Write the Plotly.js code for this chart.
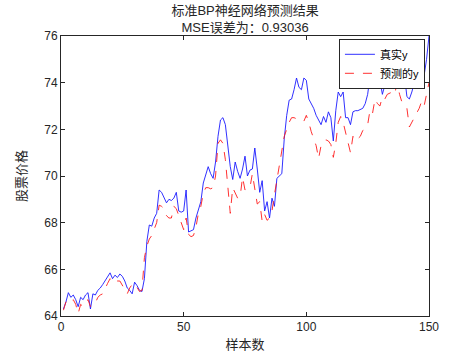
<!DOCTYPE html>
<html>
<head>
<meta charset="utf-8">
<script src="https://cdn.plot.ly/plotly-3.0.1.min.js"></script>
<style>html,body{margin:0;padding:0;background:#fff;}#chart{width:474px;height:355px;}</style>
</head>
<body>
<div id="chart"></div>
<script>
const sampleIndex = Array.from({length: 150}, (_, k) => k + 1);
const actualY = [
64.3,64.6,65.0,64.8,64.9,64.7,64.4,64.8,64.7,64.9,
65.0,64.3,64.95,64.9,65.1,65.2,65.35,65.5,65.7,65.85,
65.6,65.75,65.65,65.8,65.7,65.5,65.2,65.1,64.95,65.45,
65.3,65.1,65.05,65.6,67.2,67.9,67.85,68.2,68.4,69.4,
69.3,69.05,68.85,69.0,68.95,69.05,69.3,68.5,68.45,68.5,
69.4,67.6,67.65,67.7,68.2,68.6,68.9,69.7,70.1,70.4,
70.1,69.9,70.6,71.7,72.4,72.5,72.2,71.4,70.4,69.85,
70.6,70.2,69.9,70.3,70.85,70.0,70.25,70.3,71.2,70.3,
69.3,69.8,68.5,68.9,68.2,69.05,68.7,69.9,70.0,70.1,
71.6,72.6,73.25,73.3,73.7,74.2,73.8,73.7,74.2,74.1,
73.3,73.1,72.9,72.6,72.4,72.2,72.55,72.3,72.75,72.5,
71.5,72.8,73.6,73.4,73.6,72.5,72.5,72.2,72.75,72.8,
72.8,72.85,72.9,73.1,73.5,74.3,75.0,74.5,73.9,74.1,
73.5,73.9,74.6,75.1,74.7,75.2,74.8,75.3,74.9,74.3,
73.4,73.3,73.6,74.0,74.2,74.5,74.6,74.3,75.0,76.0
];
const predictedY = [
64.25,64.6,64.7,64.6,64.7,64.5,64.1,64.5,64.4,64.6,
64.7,64.4,64.5,64.55,64.8,64.9,64.95,65.2,65.4,65.6,
65.45,65.4,65.5,65.5,65.3,65.1,64.95,65.2,65.35,65.4,
65.2,65.05,65.1,66.5,67.0,67.3,67.45,67.7,68.0,68.75,
68.7,68.6,68.3,68.2,68.2,68.7,68.6,68.3,67.95,67.7,
68.2,67.5,67.4,67.45,67.8,68.4,68.7,69.25,69.5,69.5,
69.45,69.5,70.0,71.4,71.55,71.4,70.7,69.6,68.4,69.5,
69.3,69.05,69.1,69.95,69.4,69.45,69.5,70.1,69.5,68.8,
68.9,68.05,68.35,68.1,68.2,68.5,69.2,69.8,70.4,71.0,
71.7,72.0,72.3,72.5,72.5,72.45,72.4,72.4,72.35,72.6,
72.3,71.9,71.6,71.3,70.75,71.3,71.5,71.55,71.5,71.35,
70.8,71.4,72.3,72.55,72.3,71.9,71.45,71.0,71.7,71.5,
71.6,71.7,71.95,72.0,72.2,72.85,72.7,73.3,73.1,73.0,
73.4,73.3,73.5,73.55,73.6,73.5,74.0,73.5,73.15,73.0,
72.9,72.1,72.3,72.5,72.7,72.9,73.2,73.0,73.5,74.0
];
const seriesNames = ['真实y', '预测的y'];
const xTicks = [0, 50, 100, 150];
const yTicks = [64, 66, 68, 70, 72, 74, 76];

const font = 'Liberation Sans, Arial, Noto Sans CJK SC, sans-serif';
const axisColor = '#262626';

const traces = [
  {x: sampleIndex, y: actualY, name: seriesNames[0], mode: 'lines',
   line: {color: '#1a1aff', width: 0.9}},
  {x: sampleIndex, y: predictedY, name: seriesNames[1], mode: 'lines',
   line: {color: '#ff1a1a', width: 0.9, dash: 'dash'}}
];

const axisCommon = {
  showgrid: false, zeroline: false, showline: true, linecolor: axisColor, linewidth: 1,
  mirror: 'ticks', ticks: 'inside', ticklen: 4, tickcolor: axisColor,
  tickfont: {family: font, size: 12, color: axisColor}
};

const layout = {
  width: 474, height: 355,
  margin: {l: 61, r: 45, t: 36, b: 39},
  paper_bgcolor: '#ffffff', plot_bgcolor: '#ffffff',
  title: {text: '标准BP神经网络预测结果<br>MSE误差为：0.93036', x: 0.517, xanchor: 'center',
          yref: 'container', y: 0.958, yanchor: 'bottom',
          font: {family: font, size: 13, color: axisColor}},
  xaxis: Object.assign({}, axisCommon, {range: [0, 150], tickvals: xTicks,
          title: {text: '样本数', font: {family: font, size: 13, color: axisColor}, standoff: 6}}),
  yaxis: Object.assign({}, axisCommon, {range: [64, 76], tickvals: yTicks,
          title: {text: '股票价格', font: {family: 'Noto Sans CJK SC, sans-serif', size: 13, color: axisColor}, standoff: 14}}),
  showlegend: true,
  legend: {x: 0.989, y: 0.99, xanchor: 'right', yanchor: 'top', bgcolor: '#ffffff',
           bordercolor: axisColor, borderwidth: 1, font: {family: font, size: 11, color: '#000'},
           tracegroupgap: 0, itemwidth: 30}
};

Plotly.newPlot('chart', traces, layout, {displayModeBar: false, staticPlot: true});
</script>
</body>
</html>
